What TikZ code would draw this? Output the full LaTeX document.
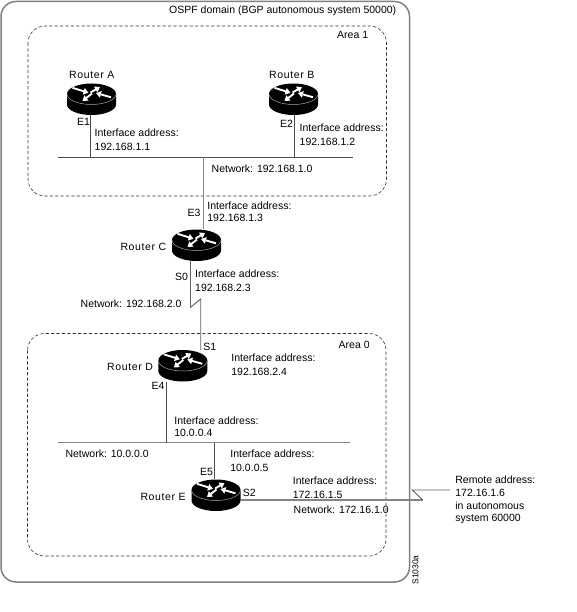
\documentclass[tikz,border=0pt]{standalone}
\usepackage{fontspec}
\setmainfont{Liberation Sans}
\usetikzlibrary{arrows.meta}
\tikzset{
  x=1pt,y=-1pt,
  lbl/.style={inner sep=0pt,anchor=west,align=left,font=\fontsize{10.5}{13.3}\selectfont},
  ilbl/.style={lbl,anchor=north west},
  rlbl/.style={lbl,font=\fontsize{10.5}{13.3}\selectfont\addfontfeature{LetterSpace=6}},
  wire/.style={draw=black!70,line width=0.8pt},
  wirethick/.style={draw=black!48,line width=1.3pt},
  wan/.style={draw=black!62,line width=0.9pt},
  frame/.style={draw=black!50,line width=1.5pt,rounded corners=15pt},
  area/.style={draw=black!80,line width=0.6pt,dash pattern=on 3.2pt off 2.2pt,rounded corners=17pt},
  rtbox/.style={minimum width=49pt,minimum height=31.5pt,inner sep=0pt,draw=none},
  rtarrow/.style={white,line width=1.9pt,-{Triangle[length=5pt,width=6.5pt]}}
}
\newcommand{\router}[3]{%
  \node[rtbox] (#1) at (#2,#3+5.25) {};
  \fill[black] (#2-24.5,#3) -- (#2-24.5,#3+10.5) arc[x radius=24.5,y radius=10.5,start angle=180,end angle=0] -- (#2+24.5,#3) -- cycle;
  \fill[black] (#2,#3) ellipse[x radius=24.5,y radius=10.5];
  \draw[black!35,line width=0.5pt] (#2-24.5,#3) arc[x radius=24.5,y radius=10.5,start angle=180,end angle=0];
  \draw[rtarrow] (#2-19,#3-6.2) -- (#2-3,#3-1.2);
  \draw[rtarrow] (#2+19.5,#3+3.3) -- (#2+4.5,#3-1);
  \draw[rtarrow] (#2-1,#3-1.5) -- (#2+8.5,#3-7);
  \draw[rtarrow] (#2+0.5,#3-0.5) -- (#2-9,#3+7);
}
\begin{document}
\begin{tikzpicture}
\useasboundingbox (0,0) rectangle (576,612);
\fill[white] (0,0) rectangle (576,612);
% frames
\coordinate (f1) at (1,1.5); \coordinate (f2) at (409.5,582);
\draw[frame] (f1) rectangle (f2);
\coordinate (a1) at (28,26); \coordinate (a2) at (386.5,196);
\draw[area] (a1) rectangle (a2);
\coordinate (b1) at (27.5,333.5); \coordinate (b2) at (386,556);
\draw[area] (b1) rectangle (b2);
% network bus coordinates
\coordinate (n1l) at (57.5,157); \coordinate (n1r) at (353,157);
\coordinate (n2l) at (57.5,442.5); \coordinate (n2r) at (350,442.5);
\draw[wire] (n1l) -- (n1r);
\draw[wirethick] (n2l) -- (n2r);
% routers
\router{A}{91.5}{94}
\router{B}{293.5}{94}
\router{C}{196.5}{240}
\router{D}{182.8}{360.5}
\router{E}{216}{490}
% connectors
\draw[wire] (A.south -| 90.5,0) -- (90.5,157);
\draw[wire] (B.south -| 294.5,0) -- (294.5,157);
\draw[wirethick] (203.5,157) -- (C.north -| 203.5,0);
\draw[wire] (D.south -| 166.3,0) -- (166.3,442.5);
\draw[wire] (214.3,442.5) -- (E.north -| 214.3,0);
\coordinate (z1) at (190.5,307.3); \coordinate (z2) at (200.7,299);
\draw[wan] (C.south -| 190.5,0) -- (z1) -- (z2) -- (D.north -| 200.7,0);
\coordinate (s1) at (422.7,500); \coordinate (s2) at (412.3,490); \coordinate (s3) at (450,490);
\draw[wirethick] (E.east |- s1) -- (s1);
\draw[wan] (s1) -- (s2) -- (s3);
% labels
\node[lbl] (t0) at (169,10.5) {OSPF domain (BGP autonomous system 50000)};
\node[lbl] (t1) at (337,35) {Area 1};
\node[lbl] (t2) at (338.5,345) {Area 0};
\node[rlbl] (ra) at (69,74.5) {Router A};
\node[rlbl] (rb) at (269,74.5) {Router B};
\node[rlbl] (rc) at (120.3,247) {Router C};
\node[rlbl] (rd) at (107,366.7) {Router D};
\node[rlbl] (re) at (140.3,496.7) {Router E};
\node[lbl] (e1) at (77,122) {E1};
\node[lbl] (e2) at (280,124) {E2};
\node[lbl] (e3) at (187.5,213.3) {E3};
\node[lbl] (s0) at (175,276.7) {S0};
\node[lbl] (s1l) at (203.2,346.7) {S1};
\node[lbl] (e4) at (151.5,385.7) {E4};
\node[lbl] (e5) at (200,472.3) {E5};
\node[lbl] (s2l) at (242.7,493.3) {S2};
\node[ilbl] (i1) at (94.5,129) {Interface address:\\192.168.1.1};
\node[ilbl] (i2) at (299.5,124) {Interface address:\\192.168.1.2};
\node[ilbl] (i3) at (207.2,202) {Interface address:\\[-1.7pt]192.168.1.3};
\node[ilbl] (i4) at (195,270) {Interface address:\\192.168.2.3};
\node[ilbl] (i5) at (231.2,354) {Interface address:\\192.168.2.4};
\node[ilbl] (i6) at (174.2,416.5) {Interface address:\\[-1pt]10.0.0.4};
\node[ilbl] (i7) at (230.2,450) {Interface address:\\10.0.0.5};
\node[ilbl] (i8) at (292.7,477) {Interface address:\\172.16.1.5};
\node[lbl] (n1) at (211.5,168.3) {Network: 192.168.1.0};
\node[lbl] (n2) at (80.5,303.3) {Network: 192.168.2.0};
\node[lbl] (n3) at (65.3,453.3) {Network: 10.0.0.0};
\node[lbl] (n4) at (293.5,510) {Network: 172.16.1.0};
\node[ilbl] (rem) at (455.2,476) {Remote address:\\[-0.6pt]172.16.1.6\\[-0.6pt]in autonomous\\[-0.6pt]system 60000};
\node[inner sep=0pt,rotate=90,font=\fontsize{8.5}{9}\selectfont] (id) at (415.5,570) {S1030a};
\end{tikzpicture}
\end{document}
